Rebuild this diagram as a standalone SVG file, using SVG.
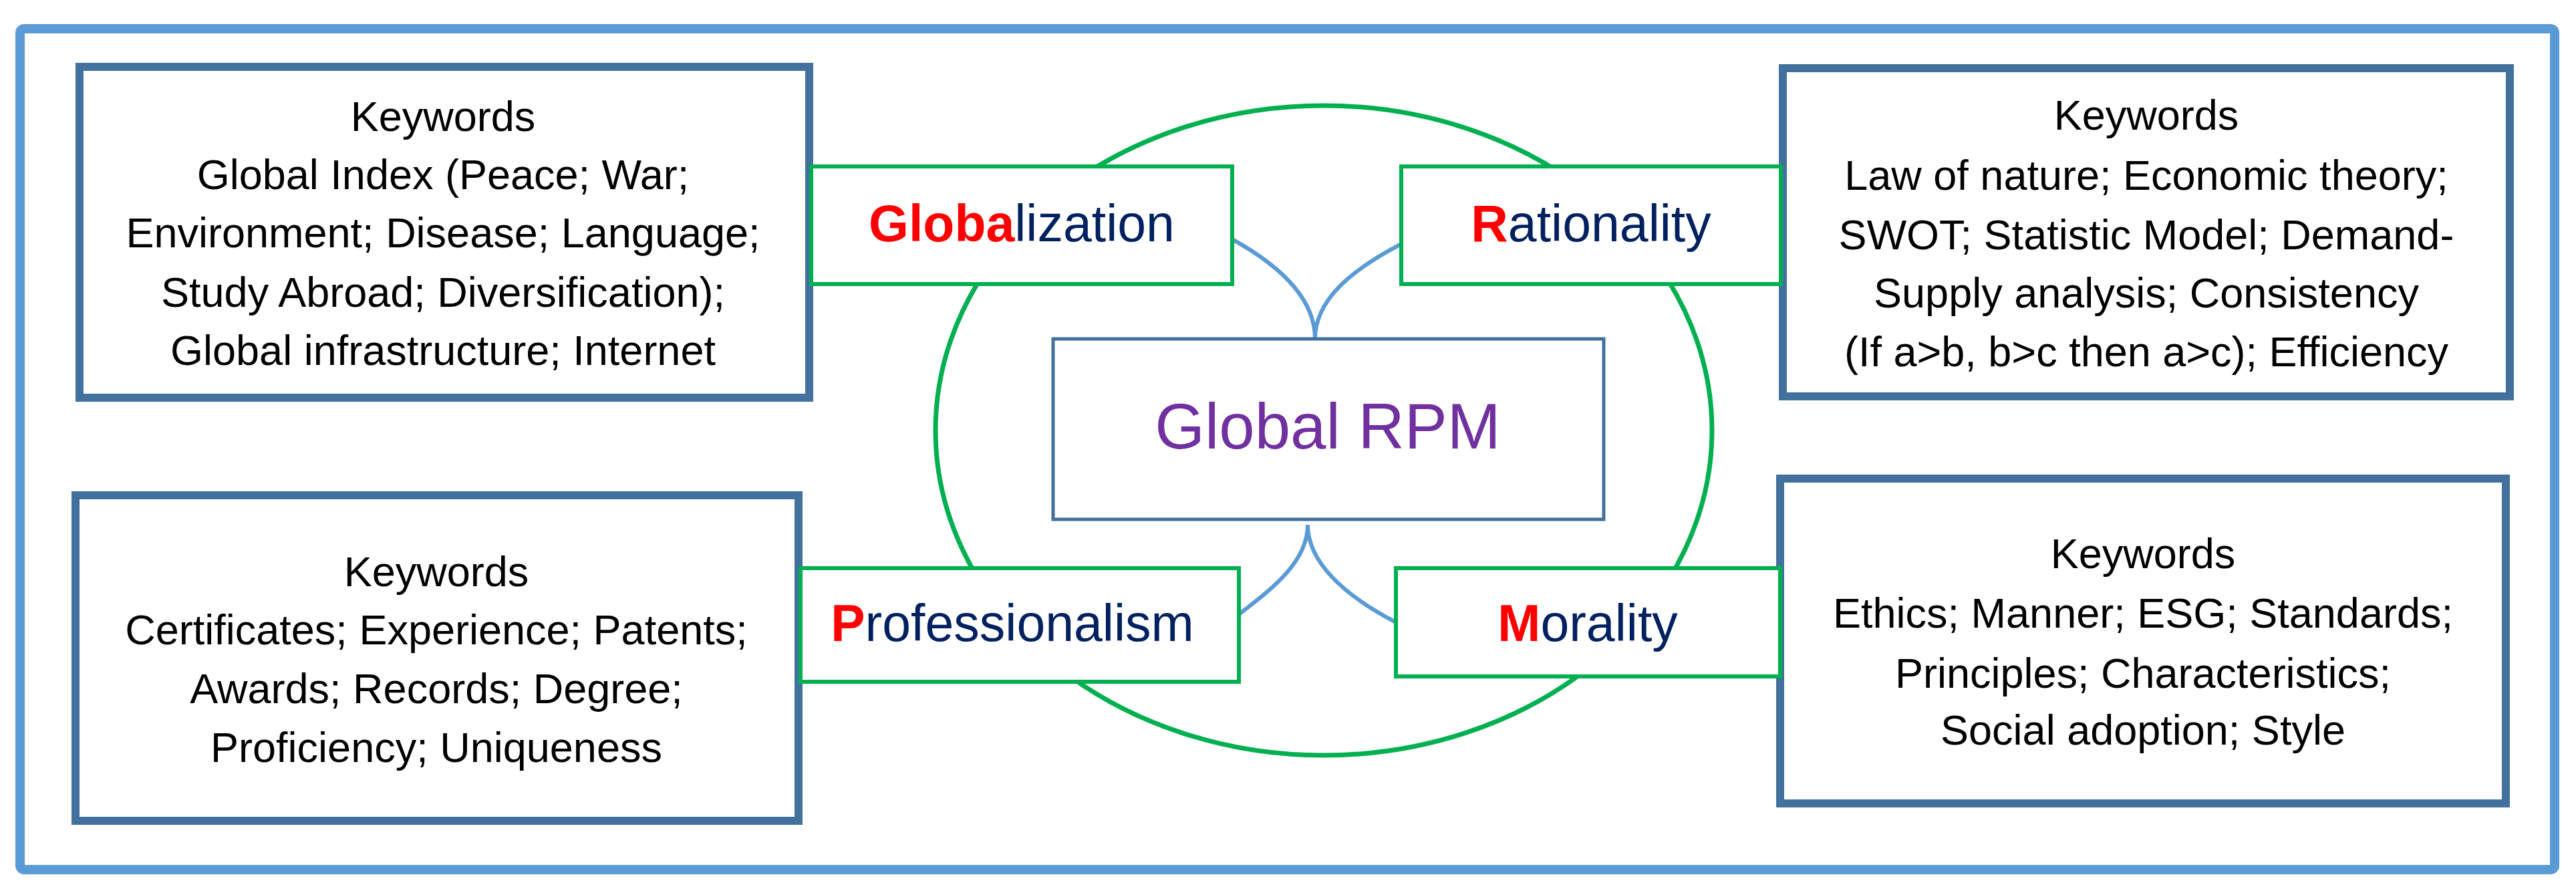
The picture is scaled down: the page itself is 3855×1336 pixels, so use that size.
<svg xmlns="http://www.w3.org/2000/svg" width="3855" height="1336" viewBox="0 0 3855 1336">
<style>
.kw{fill:#fff;stroke:#41719C;stroke-width:12}
.gb{fill:#fff;stroke:#00B050;stroke-width:6}
.t{font-family:"Liberation Sans",Arial,sans-serif;font-size:63px;fill:#000;text-anchor:middle}
.lab{font-family:"Liberation Sans",Arial,sans-serif;font-size:77px;text-anchor:middle;fill:#002060}
.r{fill:#FF0000;font-weight:bold}
.con{fill:none;stroke:#5B9BD5;stroke-width:6}
</style>
<rect x="0" y="0" width="3855" height="1336" fill="#fff"/>
<rect x="30" y="43" width="3793" height="1258" rx="6" fill="#fff" stroke="#5B9BD5" stroke-width="14"/>
<ellipse cx="1981" cy="644" rx="581" ry="486" fill="none" stroke="#00B050" stroke-width="7"/>
<g id="connectors">
<path class="con" d="M1844,358 C1920,400 1968,450 1968,507"/>
<path class="con" d="M2097,365 C2020,405 1968,450 1968,507"/>
<path class="con" d="M1854,919 C1905,880 1957,840 1957,785"/>
<path class="con" d="M2089,931 C2010,890 1957,840 1957,785"/>
</g>
<g id="kw-globalization">
<rect class="kw" x="119" y="100" width="1092" height="495"/>
<text class="t" x="663" y="196">Keywords</text>
<text class="t" x="663" y="283">Global Index (Peace; War;</text>
<text class="t" x="663" y="370">Environment; Disease; Language;</text>
<text class="t" x="663" y="459">Study Abroad; Diversification);</text>
<text class="t" x="663" y="546">Global infrastructure; Internet</text>
</g>
<g id="kw-rationality">
<rect class="kw" x="2668" y="102" width="1088" height="491"/>
<text class="t" x="3212" y="194">Keywords</text>
<text class="t" x="3212" y="284">Law of nature; Economic theory;</text>
<text class="t" x="3212" y="373">SWOT; Statistic Model; Demand-</text>
<text class="t" x="3212" y="460">Supply analysis; Consistency</text>
<text class="t" x="3212" y="548">(If a&gt;b, b&gt;c then a&gt;c); Efficiency</text>
</g>
<g id="kw-professionalism">
<rect class="kw" x="113" y="741" width="1082" height="487"/>
<text class="t" x="653" y="877">Keywords</text>
<text class="t" x="653" y="964">Certificates; Experience; Patents;</text>
<text class="t" x="653" y="1052">Awards; Records; Degree;</text>
<text class="t" x="653" y="1140">Proficiency; Uniqueness</text>
</g>
<g id="kw-morality">
<rect class="kw" x="2664" y="716" width="1086" height="486"/>
<text class="t" x="3207" y="850">Keywords</text>
<text class="t" x="3207" y="939">Ethics; Manner; ESG; Standards;</text>
<text class="t" x="3207" y="1029">Principles; Characteristics;</text>
<text class="t" x="3207" y="1114">Social adoption; Style</text>
</g>
<g id="globalization">
<rect class="gb" x="1214" y="249" width="630" height="176"/>
<text class="lab" x="1529" y="361"><tspan class="r">Globa</tspan>lization</text>
</g>
<g id="rationality">
<rect class="gb" x="2097" y="249" width="568" height="176"/>
<text class="lab" x="2381" y="361"><tspan class="r">R</tspan>ationality</text>
</g>
<g id="professionalism">
<rect class="gb" x="1198" y="850" width="656" height="170"/>
<text class="lab" x="1515" y="959"><tspan class="r">P</tspan>rofessionalism</text>
</g>
<g id="morality">
<rect class="gb" x="2089" y="850" width="575" height="162"/>
<text class="lab" x="2376" y="959"><tspan class="r">M</tspan>orality</text>
</g>
<g id="global-rpm">
<rect x="1576" y="507" width="824" height="270" fill="#fff" stroke="#41719C" stroke-width="5"/>
<text x="1987" y="671" font-family="Liberation Sans,Arial,sans-serif" font-size="96" fill="#7030A0" text-anchor="middle">Global RPM</text>
</g>
</svg>
